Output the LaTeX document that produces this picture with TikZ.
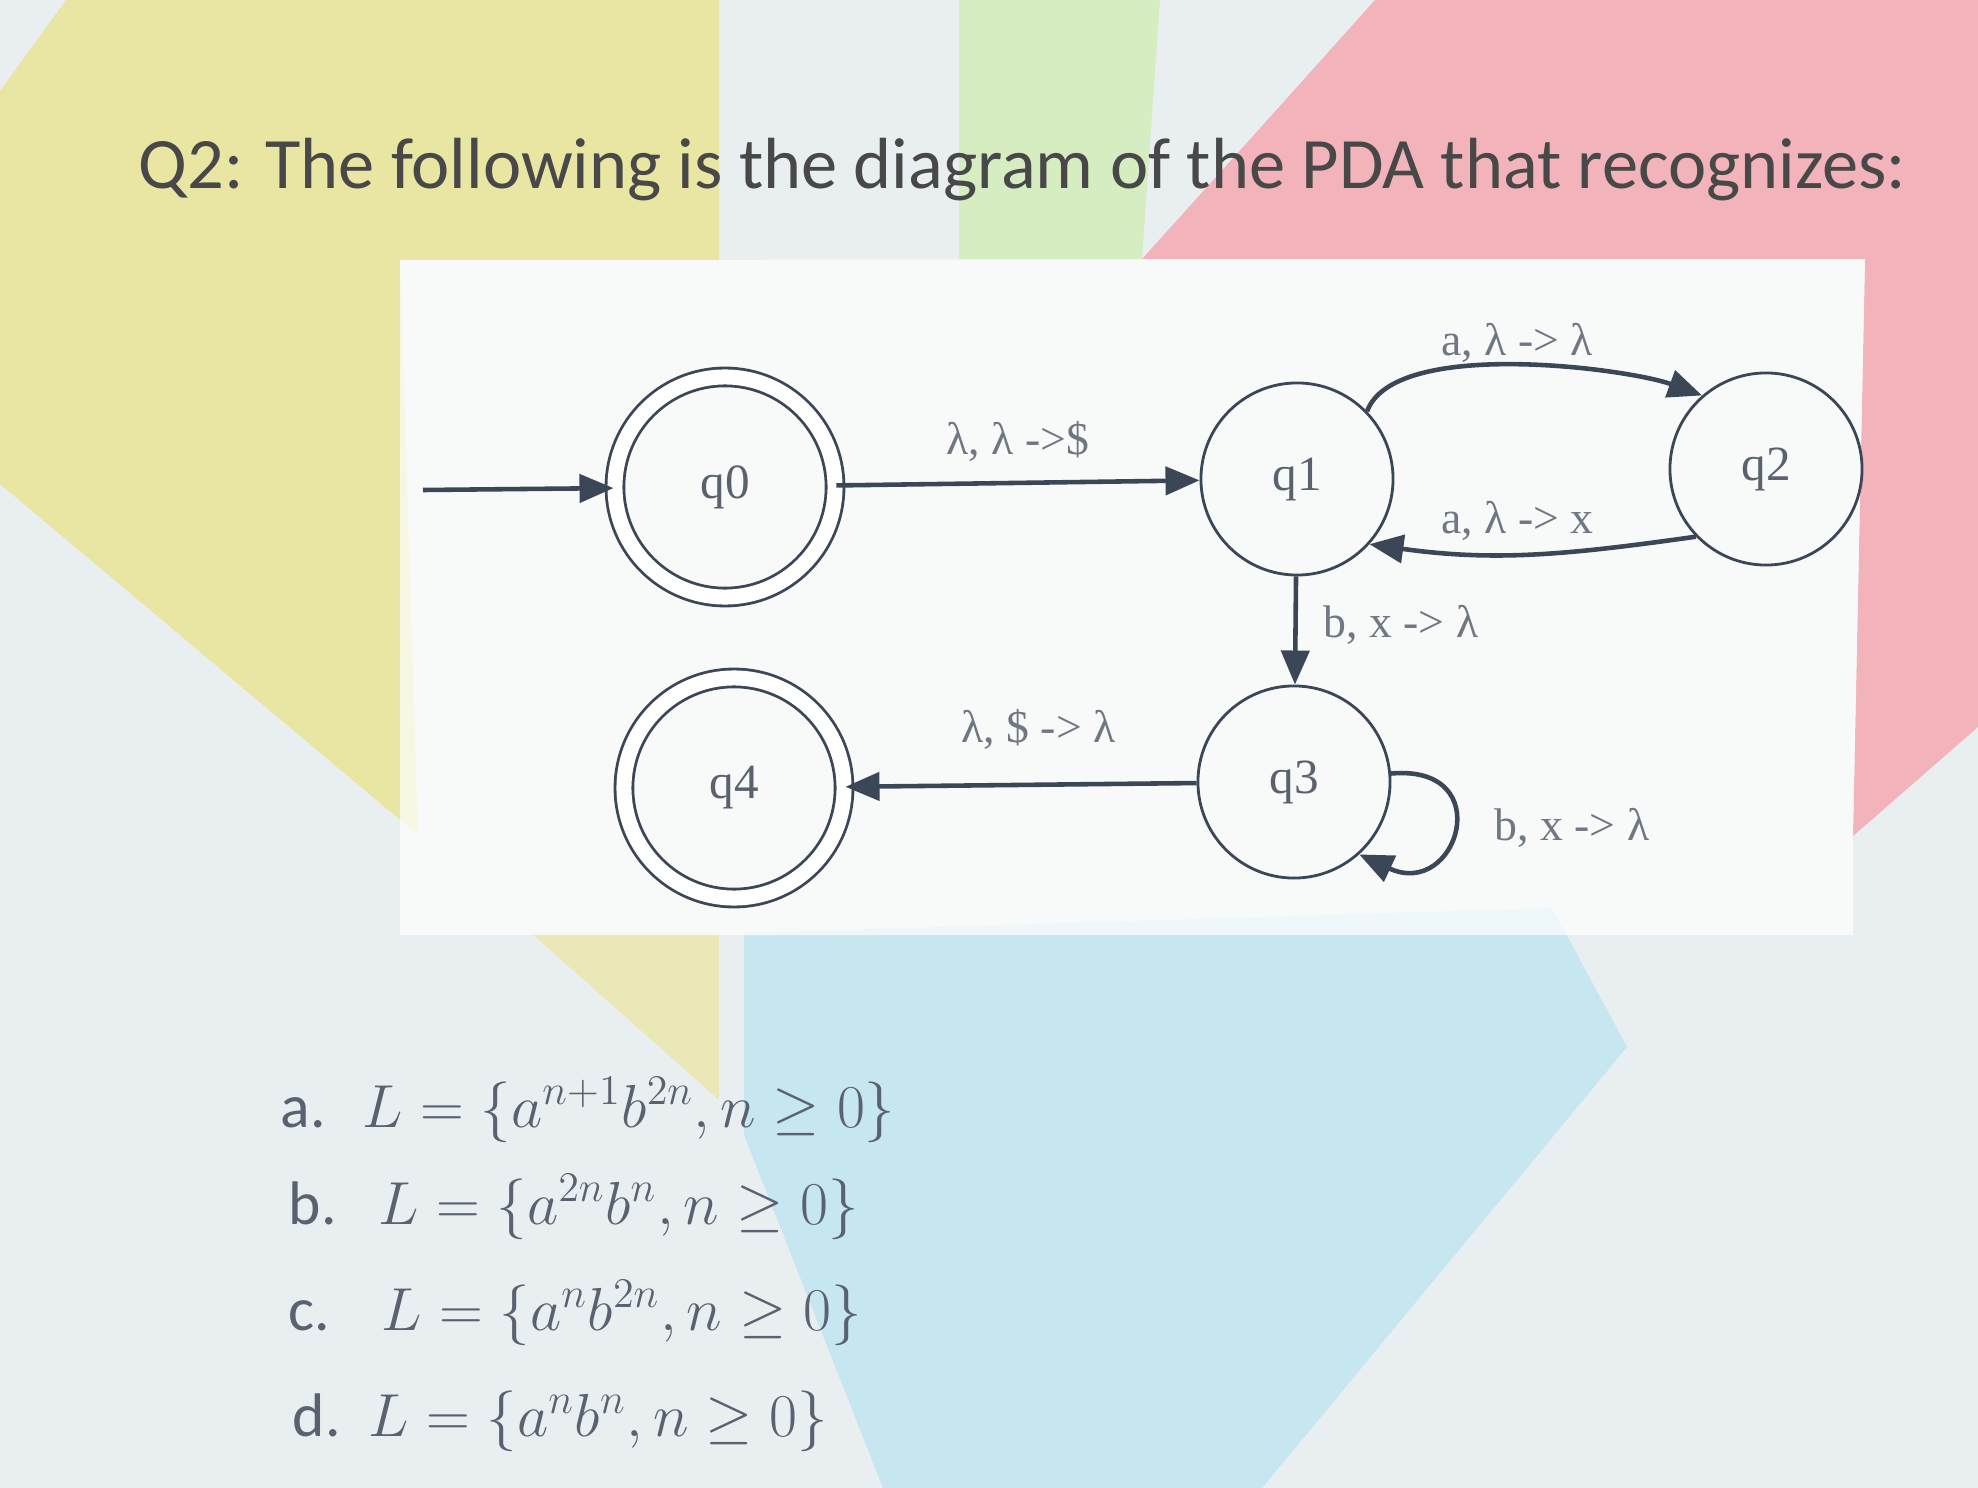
\documentclass[tikz,border=0pt]{standalone}
\usepackage{fontspec}
\setmainfont{Carlito}
\newfontfamily\labelfont{Liberation Serif}
\usetikzlibrary{arrows.meta}

\definecolor{inkgray}{HTML}{3B4756}
\definecolor{labelgray}{HTML}{6E7782}
\definecolor{stategray}{HTML}{59626D}
\definecolor{titlegray}{HTML}{484848}
\definecolor{optgray}{HTML}{5A6170}
\definecolor{paper}{HTML}{E9EFF1}
\definecolor{yellowbg}{HTML}{E9E5A2}
\definecolor{greenbg}{HTML}{D6EDC2}
\definecolor{pinkbg}{HTML}{F2B4BA}
\definecolor{bluebg}{HTML}{C6E6F0}

\tikzset{
  state/.style={circle, draw=inkgray, line width=0.8pt, minimum size=1.92cm,
    inner sep=0pt, text=stategray, font=\labelfont\fontsize{14}{16}\selectfont},
  accepting/.style={double=white, double distance=1.5mm, minimum size=2.2cm},
  trans/.style={-{Triangle[length=3.4mm,width=2.8mm]}, line width=1.3pt, draw=inkgray},
  edgelabel/.style={text=labelgray, font=\labelfont\fontsize{13}{15}\selectfont},
  option/.style={anchor=base west, inner sep=0pt, text=optgray, font=\fontsize{17.5}{20}\selectfont},
}

\begin{document}
\begin{tikzpicture}[x=0.01cm, y=0.01cm]
        \useasboundingbox (0,0) rectangle (1978,-1488);
        % Background of the photographed screen
        \fill[paper] (0,0) rectangle (1978,-1488);
        \fill[yellowbg] (0,-91) -- (66,0) -- (719,0) -- (719,-260) -- (400,-260) -- (418,-835) -- (0,-484) -- cycle;
        \fill[yellowbg!75!paper] (531,-933) -- (719,-933) -- (719,-1100) -- cycle;
        \fill[greenbg] (959,0) -- (1160,0) -- (1142,-259) -- (959,-259) -- cycle;
        \fill[pinkbg] (1142,-259) -- (1262,-126) -- (1375,0) -- (1978,0) -- (1978,-727) -- (1853,-836) -- (1865,-259) -- cycle;
        \fill[bluebg] (744,-933) -- (1552,-908) -- (1627,-1047) -- (1262,-1488) -- (883,-1488) -- (744,-1135) -- cycle;
        % Diagram panel
        \fill[white, opacity=0.7] (400,-260) -- (1865,-259) -- (1853,-836) -- (1853,-935) -- (400,-935) -- cycle;
        % Title
        \node[anchor=base west, inner sep=0pt, text=titlegray, font=\fontsize{20.6}{24}\selectfont] (title) at (138,-189)
          {Q2: The following is the diagram of the PDA that recognizes:};
        % States
        \node[state, accepting] (q0) at (725,-487) {q0};
        \node[state] (q1) at (1297,-479) {q1};
        \node[state] (q2) at (1766,-469) {q2};
        \node[state] (q3) at (1294,-782) {q3};
        \node[state, accepting] (q4) at (734,-788) {q4};
        % Start arrow
        \coordinate (start) at (423,-490);
        \draw[trans] (start) -- (q0);
        % Transitions
        \draw[trans] (q0) -- (q1) node[edgelabel, midway, above=2pt] {λ, λ ->\$};
        \draw[trans] (q1.44) to[out=70, in=160, looseness=0.6] node[edgelabel, midway, above=-3pt] {a, λ -> λ} (q2.131);
        \draw[trans] (q2.224) to[out=188, in=-8] node[edgelabel, pos=0.55, above=0pt] {a, λ -> x} (q1.-42);
        \draw[trans] (q1) -- (q3) node[edgelabel, pos=0.45, right=4pt] {b, x -> λ};
        \draw[trans] (q3.5) to[out=5, in=-25, looseness=3.2] node[edgelabel, pos=0.5, right=8pt] {b, x -> λ} (q3.-48);
        \draw[trans] (q3) -- (q4) node[edgelabel, pos=0.45, above=6pt] {λ, \$ -> λ};
        % Answer options
        \node[option] (opta) at (280,-1127) {a.};
        \node[option] (fa) at (362,-1127) {$L = \{a^{n+1}b^{2n}, n \geq 0\}$};
        \node[option] (optb) at (288,-1224) {b.};
        \node[option] (fb) at (378,-1224) {$L = \{a^{2n}b^{n}, n \geq 0\}$};
        \node[option] (optc) at (288,-1330) {c.};
        \node[option] (fc) at (381,-1330) {$L = \{a^{n}b^{2n}, n \geq 0\}$};
        \node[option] (optd) at (292,-1436) {d.};
        \node[option] (fd) at (368,-1436) {$L = \{a^{n}b^{n}, n \geq 0\}$};
\end{tikzpicture}
\end{document}
